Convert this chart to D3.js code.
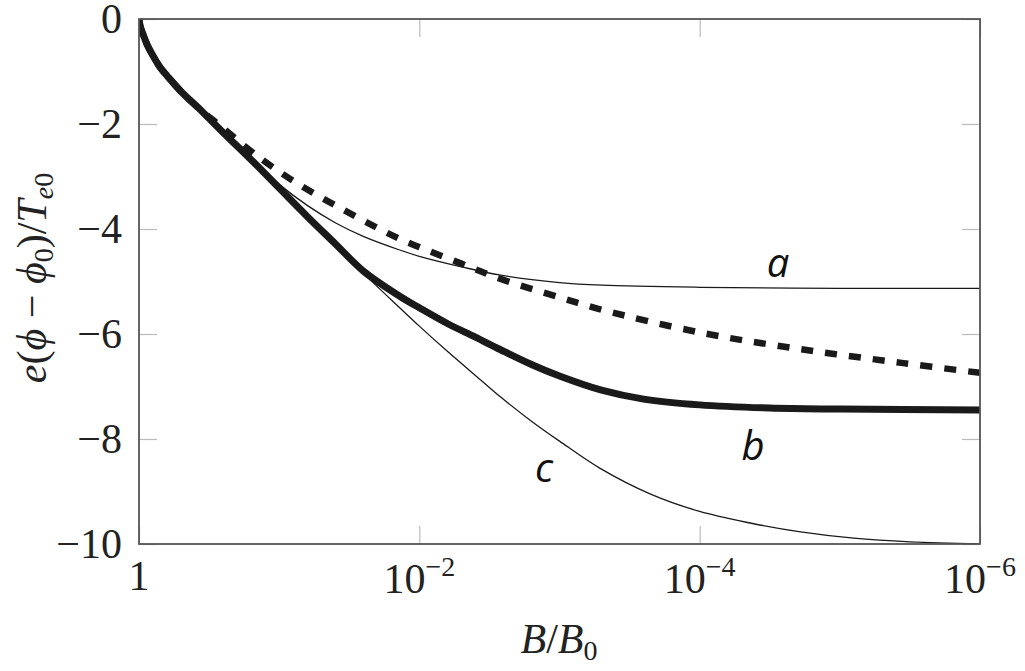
<!DOCTYPE html>
<html>
<head>
<meta charset="utf-8">
<script src="https://cdn.jsdelivr.net/npm/d3@7"></script>
<style>
  body { margin: 0; background: #fff; }
  svg { display: block; }
</style>
</head>
<body>
<svg id="chart"></svg>
<script>
// x positions are given as decades: B/B0 = 10^-t
const decades = [0, 0.01, 0.03, 0.06, 0.1, 0.15, 0.2, 0.3, 0.45, 0.6, 0.8, 1.0]
// shared start of all curves (they overlap until about B/B0 = 0.3)
const common = [0, -0.15, -0.3, -0.5, -0.7, -0.92, -1.08, -1.38, -1.76, -2.16, -2.68, -3.22]

const aT = [1.0, 1.2, 1.4, 1.6, 1.86, 2.0, 2.3, 2.58, 3.0, 3.3, 4.0, 5.0, 6.0]
const aV = [-3.15, -3.55, -3.88, -4.14, -4.4, -4.52, -4.72, -4.88, -5.02, -5.07, -5.11, -5.13, -5.13]

const bT = [1.2, 1.4, 1.6, 1.86, 2.0, 2.2, 2.4, 2.58, 2.8, 3.0, 3.3, 3.6, 4.0, 4.5, 5.0, 6.0]
const bV = [-3.76, -4.28, -4.8, -5.28, -5.5, -5.8, -6.06, -6.3, -6.58, -6.8, -7.07, -7.24, -7.35, -7.41, -7.43, -7.45]

const cT = [1.2, 1.4, 1.6, 1.86, 2.0, 2.2, 2.44, 2.58, 2.8, 3.0, 3.29, 3.65, 4.0, 4.36, 4.72, 5.1, 5.5, 6.0]
const cV = [-3.76, -4.3, -4.84, -5.5, -5.85, -6.33, -6.88, -7.2, -7.66, -8.04, -8.56, -9.05, -9.38, -9.6, -9.77, -9.89, -9.96, -10]

const dT = [0.55, 0.84, 1.14, 1.45, 1.76, 1.94, 2.3, 2.6, 3.0, 3.29, 4.0, 4.72, 5.44, 6.0]
const dV = [-1.97, -2.6, -3.15, -3.62, -4.06, -4.28, -4.66, -4.97, -5.3, -5.53, -5.97, -6.29, -6.55, -6.74]

const xTicks = [1, 1e-2, 1e-4, 1e-6]
const xTickExp = [null, -2, -4, -6]
const yTicks = [0, -2, -4, -6, -8, -10]

const width = 1025, height = 671
const margin = {left: 139, right: 45, top: 19, bottom: 127}
const serif = '"Liberation Serif", "Times New Roman", "DejaVu Serif", serif'

const svg = d3.select('#chart')
    .attr('width', width)
    .attr('height', height)

const x = d3.scaleLog()
    .domain([1, 1e-6])
    .range([margin.left, width - margin.right])
const y = d3.scaleLinear()
    .domain([0, -10])
    .range([margin.top, height - margin.bottom])

function series(ts, vs) {
    const pts = []
    decades.forEach((t, i) => { if (t < ts[0] - 0.04) pts.push({B: Math.pow(10, -t), v: common[i]}) })
    ts.forEach((t, i) => pts.push({B: Math.pow(10, -t), v: vs[i]}))
    return pts
}

const curves = [
    {pts: series(aT, aV), width: 1.3, dash: null},
    {pts: series(cT, cV), width: 1.3, dash: null},
    {pts: series(dT, dV), width: 6.5, dash: '12,12'},
    {pts: series(bT, bV), width: 7, dash: null}
]

svg.append('clipPath').attr('id', 'clip')
    .append('rect')
    .attr('x', x(1)).attr('y', y(0))
    .attr('width', x(1e-6) - x(1)).attr('height', y(-10) - y(0))

const line = d3.line()
    .x(d => x(d.B))
    .y(d => y(d.v))
    .curve(d3.curveCatmullRom.alpha(0.5))

// Axes: ticks inward on all four sides
const tickColor = '#bbb'
const gx = svg.append('g').attr('transform', `translate(0,${y(-10)})`)
    .call(d3.axisBottom(x).tickValues(xTicks).tickSize(-18).tickFormat(''))
const gxt = svg.append('g').attr('transform', `translate(0,${y(0)})`)
    .call(d3.axisTop(x).tickValues(xTicks).tickSize(-18).tickFormat(''))
const gy = svg.append('g').attr('transform', `translate(${x(1)},0)`)
    .call(d3.axisLeft(y).tickValues(yTicks).tickSize(-18).tickFormat(''))
const gyr = svg.append('g').attr('transform', `translate(${x(1e-6)},0)`)
    .call(d3.axisRight(y).tickValues(yTicks).tickSize(-18).tickFormat(''))
;[gx, gxt, gy, gyr].forEach(g => {
    g.select('.domain').remove()
    g.selectAll('.tick line').attr('stroke', tickColor).attr('stroke-width', 1.2)
})

// Curves
svg.append('g')
    .attr('clip-path', 'url(#clip)')
    .selectAll('path')
    .data(curves)
    .join('path')
    .attr('d', d => line(d.pts))
    .attr('fill', 'none')
    .attr('stroke', '#1a1a1a')
    .attr('stroke-width', d => d.width)
    .attr('stroke-dasharray', d => d.dash)

// Frame
svg.append('rect')
    .attr('x', x(1)).attr('y', y(0))
    .attr('width', x(1e-6) - x(1)).attr('height', y(-10) - y(0))
    .attr('fill', 'none')
    .attr('stroke', '#555')
    .attr('stroke-width', 1.8)

// all text of the axes uses the serif face
const labels = svg.append('g')
    .attr('font-family', serif)
    .attr('font-size', 42)
    .attr('fill', '#222')

// Y tick labels
labels.append('g')
    .selectAll('text')
    .data(yTicks)
    .join('text')
    .attr('font-family', serif)
    .attr('x', x(1) - 17)
    .attr('y', d => y(d) + 14)
    .attr('text-anchor', 'end')
    .text(d => d === 0 ? '0' : '\u2212' + Math.abs(d))

// X tick labels
const xl = labels.append('g')
    .selectAll('text')
    .data(xTicks)
    .join('text')
    .attr('font-family', serif)
    .attr('x', d => x(d))
    .attr('y', y(-10) + 46)
    .attr('text-anchor', 'middle')
xl.each(function (d, i) {
    const t = d3.select(this)
    if (xTickExp[i] === null) { t.text('1'); return }
    t.append('tspan').attr('dy', 3).text('10')
    t.append('tspan').attr('dy', -17).attr('font-size', 28).text('\u2212' + Math.abs(xTickExp[i]))
})

// Axis titles
const xt = labels.append('text')
    .attr('font-family', serif)
    .attr('x', 559).attr('y', 653)
    .attr('text-anchor', 'middle')
xt.append('tspan').attr('font-style', 'italic').text('B')
xt.append('tspan').text('/')
xt.append('tspan').attr('font-style', 'italic').text('B')
xt.append('tspan').attr('font-size', 28).attr('dy', 7).text('0')

const yt = labels.append('text')
    .attr('font-family', serif)
    .attr('transform', 'translate(46,278) rotate(-90)')
    .attr('text-anchor', 'middle')
yt.append('tspan').attr('font-style', 'italic').text('e')
yt.append('tspan').text('(')
yt.append('tspan').attr('font-style', 'italic').text('\u03D5')
yt.append('tspan').text(' \u2212 ')
yt.append('tspan').attr('font-style', 'italic').text('\u03D5')
yt.append('tspan').attr('font-size', 28).attr('dy', 7).text('0')
yt.append('tspan').attr('dy', -7).text(')/')
yt.append('tspan').attr('font-style', 'italic').text('T')
yt.append('tspan').attr('font-size', 28).attr('font-style', 'italic').attr('dy', 7).text('e')
yt.append('tspan').attr('font-size', 28).text('0')

// Curve labels
const curveLabels = [
    {text: 'a', B: Math.pow(10, -4.56), v: -4.91},
    {text: 'b', B: Math.pow(10, -4.38), v: -8.4},
    {text: 'c', B: Math.pow(10, -2.89), v: -8.82}
]
svg.append('g')
    .selectAll('text')
    .data(curveLabels)
    .join('text')
    .attr('font-family', '"Open Sans", "Noto Sans", sans-serif')
    .attr('font-style', 'italic')
    .attr('font-size', 40)
    .attr('fill', '#111')
    .attr('x', d => x(d.B))
    .attr('y', d => y(d.v))
    .attr('text-anchor', 'middle')
    .text(d => d.text)
</script>
</body>
</html>
